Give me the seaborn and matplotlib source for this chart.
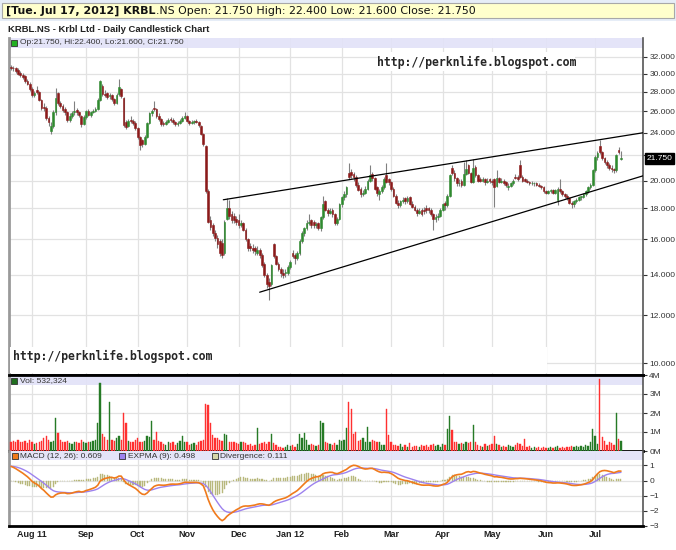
"""KRBL.NS daily candlestick chart with volume and MACD panels."""

import matplotlib
matplotlib.use("Agg")
import matplotlib.pyplot as plt
import matplotlib.transforms as mtransforms
import numpy as np
import pandas as pd
import seaborn as sns
from matplotlib.patches import Rectangle
from matplotlib.ticker import NullLocator

# daily OHLC, 19 Jul 2011 .. 17 Jul 2012
opens = [
    30.8, 30.7, 30.6, 30.4, 30.1, 29.9, 29.7, 29.2, 28.9, 28.3,
    27.7, 28.2, 28.0, 27.2, 26.4, 26.3, 25.4, 24.1, 24.6, 25.9,
    27.9, 26.8, 26.5, 26.2, 25.9, 25.2, 25.6, 25.9, 26.1, 25.9,
    25.6, 24.8, 25.5, 26.0, 25.7, 25.9, 26.0, 26.2, 27.2, 28.6,
    27.8, 27.9, 27.6, 27.7, 27.3, 26.8, 27.8, 28.3, 27.4, 25.0,
    24.6, 25.2, 25.1, 24.9, 24.4, 23.6, 23.3, 23.0, 23.6, 24.9,
    25.8, 26.3, 26.2, 25.6, 25.3, 24.9, 24.8, 25.0, 25.3, 25.2,
    25.0, 24.8, 24.9, 25.1, 25.4, 25.6, 25.1, 24.9, 25.0, 25.1,
    25.0, 24.6, 23.9, 22.8, 19.2, 17.2, 16.9, 16.4, 16.1, 15.9,
    15.8, 15.2, 17.3, 18.0, 17.6, 17.5, 17.3, 17.2, 16.9, 17.0,
    16.6, 16.0, 15.6, 15.5, 15.5, 15.2, 15.4, 15.1, 14.6, 14.0,
    13.6, 13.5, 15.7, 15.0, 14.6, 14.3, 14.1, 14.1, 14.1, 14.4,
    15.2, 15.1, 14.9, 15.2, 15.9, 16.4, 16.7, 17.0, 17.2, 17.1,
    16.9, 17.0, 16.7, 17.4, 18.5, 17.9, 17.7, 17.9, 17.6, 17.0,
    17.3, 18.3, 18.8, 19.0, 20.6, 20.7, 20.5, 20.3, 19.7, 19.4,
    19.0, 19.1, 19.4, 20.0, 20.5, 20.2, 19.5, 19.0, 19.2, 19.5,
    20.4, 20.1, 19.9, 19.4, 18.9, 18.4, 18.2, 18.5, 18.7, 18.5,
    18.8, 18.3, 18.1, 17.9, 17.7, 17.9, 17.9, 18.0, 18.0, 17.9,
    17.6, 17.3, 17.4, 17.5, 17.9, 18.4, 18.2, 18.9, 21.0, 20.6,
    20.2, 19.8, 20.0, 19.7, 20.5, 21.2, 20.6, 19.9, 21.1, 20.4,
    20.1, 20.0, 20.1, 19.9, 20.1, 20.0, 20.1, 19.6, 20.2, 19.9,
    20.0, 19.9, 19.5, 19.6, 19.8, 20.3, 20.3, 21.2, 20.3, 20.1,
    20.0, 19.9, 19.8, 19.8, 19.8, 19.7, 19.6, 19.5, 19.2, 19.1,
    19.2, 19.3, 19.1, 18.6, 19.4, 19.2, 19.0, 18.9, 18.7, 18.4,
    18.3, 18.5, 18.6, 18.8, 18.8, 19.0, 19.2, 19.5, 19.7, 20.8,
    21.9, 22.8, 22.3, 21.8, 21.5, 21.2, 21.0, 20.9, 20.8, 22.5,
    21.75,
]
highs = [
    31.0, 30.9, 30.8, 30.6, 30.3, 30.1, 29.9, 29.4, 29.1, 28.5,
    28.1, 28.6, 28.1, 27.3, 26.8, 26.5, 25.6, 25.0, 26.1, 28.4,
    28.0, 27.0, 26.7, 26.4, 26.0, 25.8, 26.0, 27.0, 26.3, 26.0,
    25.7, 25.7, 26.1, 26.2, 26.0, 26.2, 26.4, 27.4, 29.3, 28.8,
    28.2, 28.0, 27.9, 27.8, 27.4, 27.9, 29.4, 28.4, 27.5, 25.2,
    25.3, 25.6, 25.3, 25.1, 24.5, 23.7, 23.4, 23.8, 25.0, 25.9,
    26.2, 27.1, 26.3, 25.8, 25.4, 25.1, 25.2, 25.4, 25.5, 25.4,
    25.1, 25.1, 25.3, 25.6, 25.9, 25.7, 25.2, 25.2, 25.2, 25.3,
    25.1, 24.7, 24.0, 22.9, 19.4, 17.5, 17.0, 16.6, 16.3, 16.0,
    16.0, 17.2, 18.7, 18.6, 17.8, 17.7, 17.5, 17.6, 17.2, 17.1,
    16.7, 16.1, 15.8, 15.7, 15.6, 15.6, 15.5, 15.2, 14.7, 14.1,
    13.8, 14.6, 15.8, 15.1, 14.7, 14.4, 14.3, 14.3, 14.5, 14.8,
    15.4, 15.2, 15.3, 16.0, 16.5, 16.8, 17.2, 17.6, 17.3, 17.2,
    17.1, 17.1, 17.5, 18.9, 18.6, 18.0, 18.0, 18.0, 17.7, 17.4,
    18.4, 18.9, 19.2, 19.6, 21.4, 20.9, 20.7, 20.4, 19.9, 19.5,
    19.3, 19.6, 20.1, 21.2, 20.7, 20.3, 19.6, 19.4, 19.7, 20.3,
    21.4, 20.2, 20.0, 19.5, 19.0, 18.6, 18.6, 18.8, 18.8, 18.9,
    18.9, 18.5, 18.2, 18.0, 18.0, 18.0, 18.1, 18.2, 18.1, 18.0,
    17.7, 17.6, 17.7, 18.0, 18.4, 18.5, 19.0, 20.5, 21.2, 20.8,
    20.3, 20.1, 20.1, 21.5, 21.6, 21.3, 20.7, 21.7, 21.2, 20.5,
    20.3, 20.3, 20.2, 20.2, 20.2, 20.1, 20.2, 20.8, 20.3, 20.2,
    20.1, 20.0, 19.8, 19.9, 20.1, 20.5, 20.4, 21.6, 20.4, 20.2,
    20.1, 20.0, 20.0, 19.9, 19.9, 19.8, 19.7, 19.6, 19.3, 19.3,
    19.4, 19.4, 19.4, 19.5, 20.1, 19.3, 19.1, 19.0, 18.8, 18.5,
    18.6, 18.7, 18.9, 18.9, 19.1, 19.3, 19.6, 19.8, 20.9, 22.0,
    22.4, 23.3, 22.4, 21.9, 21.6, 21.4, 21.2, 21.0, 22.1, 22.7,
    22.4,
]
lows = [
    30.4, 30.3, 30.1, 29.8, 29.6, 29.4, 29.0, 28.7, 28.1, 27.5,
    27.5, 27.8, 27.0, 26.1, 26.0, 25.2, 24.6, 23.9, 24.4, 25.7,
    26.6, 26.3, 25.9, 25.7, 25.0, 25.0, 25.4, 25.7, 25.7, 25.5,
    24.5, 24.7, 25.3, 25.6, 25.5, 25.8, 25.9, 26.1, 27.1, 27.6,
    27.5, 27.3, 27.3, 27.1, 26.6, 26.7, 27.6, 27.4, 24.5, 24.3,
    24.5, 24.9, 24.7, 24.2, 23.4, 22.5, 22.7, 22.9, 23.5, 24.8,
    25.6, 26.0, 25.4, 25.1, 24.6, 24.6, 24.7, 24.9, 25.0, 24.8,
    24.6, 24.6, 24.8, 25.0, 25.3, 25.0, 24.7, 24.8, 24.8, 24.9,
    24.5, 23.8, 22.8, 19.1, 17.0, 16.6, 16.2, 15.9, 15.5, 15.0,
    14.9, 15.1, 17.2, 17.3, 17.0, 17.0, 16.9, 16.7, 16.8, 16.5,
    15.9, 15.3, 15.3, 15.2, 15.1, 15.1, 14.9, 14.4, 13.9, 13.3,
    12.7, 13.4, 14.9, 14.5, 14.2, 13.9, 13.8, 13.9, 14.0, 14.3,
    14.9, 14.6, 14.8, 15.1, 15.8, 16.2, 16.6, 16.9, 16.7, 16.7,
    16.7, 16.6, 16.5, 17.3, 17.8, 17.5, 17.6, 17.4, 16.9, 16.9,
    17.2, 18.1, 18.6, 18.8, 20.1, 20.2, 20.0, 19.5, 19.2, 18.8,
    18.9, 19.0, 19.3, 19.9, 20.0, 19.3, 18.9, 18.6, 19.1, 19.4,
    19.8, 19.7, 19.2, 18.8, 18.3, 18.0, 18.1, 18.4, 18.3, 18.4,
    18.2, 18.0, 17.8, 17.5, 17.6, 17.5, 17.6, 17.7, 17.7, 17.5,
    16.6, 17.1, 17.2, 17.4, 17.8, 17.9, 18.1, 18.8, 20.4, 20.0,
    19.6, 19.6, 19.5, 19.6, 20.4, 20.5, 19.8, 19.8, 20.3, 19.9,
    19.9, 19.9, 19.7, 19.8, 19.8, 19.7, 18.1, 19.5, 19.8, 19.8,
    19.7, 19.5, 19.3, 19.5, 19.7, 20.1, 20.0, 20.2, 19.9, 19.9,
    19.8, 19.7, 19.7, 19.6, 19.6, 19.5, 19.4, 19.1, 19.0, 19.0,
    19.1, 19.0, 19.0, 18.2, 19.1, 18.9, 18.7, 18.6, 18.3, 18.0,
    18.1, 18.4, 18.5, 18.6, 18.7, 18.9, 19.1, 19.4, 19.6, 20.7,
    21.6, 22.1, 21.6, 21.3, 21.0, 20.8, 20.7, 20.6, 20.7, 22.1,
    21.6,
]
closes = [
    30.6, 30.6, 30.3, 30.0, 29.8, 29.6, 29.2, 28.9, 28.3, 27.7,
    27.9, 28.0, 27.2, 26.3, 26.3, 25.4, 25.0, 24.6, 25.9, 27.4,
    26.8, 26.5, 26.1, 25.9, 25.2, 25.6, 25.8, 26.0, 25.9, 25.7,
    24.8, 25.5, 26.0, 25.7, 25.9, 26.0, 26.2, 27.2, 29.2, 27.8,
    27.7, 27.5, 27.6, 27.3, 26.8, 27.7, 28.5, 27.6, 24.7, 24.5,
    25.1, 25.1, 24.9, 24.4, 23.6, 22.9, 23.0, 23.6, 24.9, 25.8,
    26.0, 26.2, 25.6, 25.3, 24.8, 24.8, 25.0, 25.2, 25.2, 25.0,
    24.8, 24.9, 25.1, 25.4, 25.6, 25.1, 24.9, 25.0, 25.0, 25.0,
    24.7, 23.9, 23.0, 19.2, 17.1, 16.8, 16.4, 16.1, 15.7, 15.2,
    15.1, 17.1, 18.0, 17.5, 17.2, 17.2, 17.1, 16.9, 17.0, 16.6,
    16.0, 15.5, 15.5, 15.4, 15.3, 15.4, 15.1, 14.5, 14.0, 13.5,
    13.4, 14.5, 15.0, 14.6, 14.3, 14.1, 14.0, 14.1, 14.4, 14.7,
    15.0, 14.9, 15.2, 15.9, 16.4, 16.7, 17.0, 17.1, 16.9, 16.9,
    16.9, 16.7, 17.4, 18.3, 17.9, 17.7, 17.8, 17.6, 17.0, 17.3,
    18.3, 18.8, 19.0, 19.5, 20.3, 20.4, 20.3, 19.7, 19.3, 19.0,
    19.1, 19.4, 20.0, 20.4, 20.2, 19.4, 19.1, 19.2, 19.5, 20.1,
    19.9, 19.9, 19.4, 18.9, 18.4, 18.2, 18.5, 18.6, 18.5, 18.7,
    18.3, 18.1, 17.9, 17.7, 17.8, 17.6, 17.8, 17.9, 17.9, 17.6,
    17.3, 17.4, 17.5, 17.9, 18.3, 18.2, 18.9, 20.4, 20.6, 20.2,
    19.8, 19.8, 19.7, 20.5, 20.9, 20.6, 19.9, 21.0, 20.4, 20.0,
    20.0, 20.1, 19.9, 20.0, 20.0, 19.9, 19.5, 20.2, 19.9, 20.0,
    19.8, 19.7, 19.6, 19.8, 20.0, 20.2, 20.1, 20.3, 20.0, 20.0,
    19.9, 19.8, 19.8, 19.8, 19.7, 19.6, 19.5, 19.2, 19.1, 19.2,
    19.3, 19.1, 19.3, 19.4, 19.2, 19.0, 18.9, 18.7, 18.4, 18.3,
    18.5, 18.6, 18.8, 18.8, 19.0, 19.2, 19.5, 19.7, 20.8, 21.9,
    22.2, 22.3, 21.8, 21.5, 21.2, 21.0, 20.9, 20.8, 22.0, 22.3,
    21.75,
]
# volume in millions of shares
volume_m = [
    0.45, 0.55, 0.5, 0.6, 0.45, 0.5, 0.55, 0.4, 0.6, 0.5,
    0.35, 0.4, 0.45, 0.55, 0.7, 0.8, 0.6, 0.45, 0.55, 1.75,
    0.95, 0.6, 0.5, 0.45, 0.55, 0.4, 0.35, 0.5, 0.45, 0.4,
    0.6, 0.45, 0.4, 0.5, 0.45, 0.55, 0.6, 1.5, 3.6, 0.9,
    0.75, 0.6, 2.6, 0.6, 0.55, 0.7, 0.8, 0.6, 2.0, 1.45,
    0.55, 0.5, 0.45, 0.6, 0.7, 0.5, 0.45, 0.55, 0.8, 0.75,
    1.6, 0.6, 1.0, 0.55, 0.45, 0.35, 0.3, 0.5, 0.4, 0.45,
    0.3, 0.4, 0.55, 0.8, 0.5, 0.45, 0.3, 0.35, 0.4, 0.3,
    0.45, 0.55, 0.6, 2.5, 2.4, 1.45, 0.85, 0.7, 0.7, 0.6,
    0.55, 0.9, 0.85, 0.5, 0.45, 0.5, 0.4, 0.35, 0.5, 0.45,
    0.4, 0.3, 0.35, 0.25, 0.3, 1.2, 0.35, 0.4, 0.5, 0.35,
    0.45, 0.9, 0.4, 0.3, 0.2, 0.2, 0.15, 0.2, 0.3, 0.25,
    0.3, 0.2, 0.35, 0.9, 0.7, 0.95, 0.6, 0.3, 0.35, 0.3,
    0.25, 0.3, 1.6, 1.45, 0.5, 0.4, 0.35, 0.3, 0.4, 0.3,
    0.6, 0.55, 0.6, 1.2, 2.6, 2.2, 0.9, 1.0, 0.55, 0.6,
    0.7, 0.5, 1.25, 0.5, 0.6, 0.55, 0.5, 0.45, 0.3, 0.3,
    2.2, 0.85, 0.5, 0.3, 0.3, 0.25, 0.35, 0.2, 0.3, 0.2,
    0.4, 0.2, 0.25, 0.25, 0.2, 0.3, 0.25, 0.3, 0.2, 0.3,
    0.35, 0.25, 0.3, 0.2, 0.35, 0.3, 1.15, 1.85, 1.1, 0.45,
    0.45, 0.35, 0.4, 0.35, 0.45, 0.4, 0.45, 1.35, 0.5, 0.3,
    0.25, 0.2, 0.35, 0.25, 0.3, 0.35, 0.8, 0.35, 0.3, 0.2,
    0.25, 0.2, 0.3, 0.25, 0.2, 0.3, 0.4, 0.35, 0.25, 0.65,
    0.2, 0.25, 0.15, 0.2, 0.15, 0.2, 0.15, 0.2, 0.15, 0.15,
    0.2, 0.15, 0.2, 0.25, 0.15, 0.2, 0.15, 0.2, 0.2, 0.25,
    0.2, 0.25, 0.2, 0.25, 0.2, 0.3, 0.25, 0.5, 1.15, 0.8,
    0.35, 3.8, 0.75, 0.55, 0.3, 0.45, 0.4, 0.3, 2.0, 0.65,
    0.53,
]

month_labels = ["Aug 11", "Sep", "Oct", "Nov", "Dec", "Jan 12",
                "Feb", "Mar", "Apr", "May", "Jun", "Jul"]
price_ticks = [10, 12, 14, 16, 18, 20, 22, 24, 26, 28, 30, 32]
volume_ticks = [0, 1, 2, 3, 4]
macd_ticks = [-3, -2, -1, 0, 1]

# hand-drawn trendlines: (trading-day index, price)
upper_trend = ([90.5, 270.0], [18.6, 24.0])
lower_trend = ([106.0, 270.0], [13.1, 20.4])

# EMA state carried in from before the window
ema12_seed, ema26_seed, signal_seed = 30.5, 29.5, 0.95

W, H = 676, 550
XLIM = (-0.85, 269.4)


def ema(values, span, start):
    alpha = 2 / (span + 1)
    out, e = [], start
    for v in values:
        e += alpha * (v - e)
        out.append(e)
    return np.array(out)


def box(x0, y0, x1, y1):
    return [x0 / W, 1 - y1 / H, (x1 - x0) / W, (y1 - y0) / H]


def fig_rect(fig, x0, y0, x1, y1, **kw):
    fig.add_artist(Rectangle((x0 / W, 1 - y1 / H), (x1 - x0) / W, (y1 - y0) / H,
                             transform=fig.transFigure, **kw))


def style_panel(ax, month_pos, band):
    ax.set_xlim(*XLIM)
    ax.set_xticks(month_pos)
    ax.tick_params(axis="x", length=0, labelbottom=False)
    ax.yaxis.tick_right()
    ax.tick_params(axis="y", labelsize=6, length=3, width=0.8, pad=1.5,
                   colors="#333333")
    ax.grid(True, color="#e2e2e2", lw=0.9)
    ax.set_axisbelow(True)
    ax.spines["left"].set_color("#9a9a9a")
    ax.spines["left"].set_linewidth(2)
    ax.spines["right"].set_color("#555555")
    ax.spines["right"].set_linewidth(1.2)
    ax.spines["top"].set_visible(False)
    ax.spines["bottom"].set_color("black")
    ax.spines["bottom"].set_linewidth(2)
    ax.add_patch(Rectangle((0, 1 - band), 1, band, transform=ax.transAxes,
                           fc="#e2e2f8", ec="none", alpha=0.9, zorder=1))


def main():
    sns.set_style("white")
    plt.rcParams["font.family"] = ["Liberation Sans", "DejaVu Sans"]

    o = np.array(opens)
    h = np.array(highs)
    lo = np.array(lows)
    c = np.array(closes)
    vol = np.array(volume_m)
    n = len(c)
    idx = np.arange(n)
    dates = pd.bdate_range("2011-07-19", periods=n)
    frame = pd.DataFrame({"date": dates, "idx": idx})
    month_pos = frame.groupby([frame.date.dt.year, frame.date.dt.month]).idx.min().values[1:]

    macd = ema(c, 12, ema12_seed) - ema(c, 26, ema26_seed)
    signal = ema(macd, 9, signal_seed)

    fig = plt.figure(figsize=(W / 100, H / 100), dpi=100)
    fig.patch.set_facecolor("white")

    # header strip
    fig_rect(fig, 0, 0, W, 21, fc="#e6edf7", ec="none")
    fig_rect(fig, 2, 3, 674, 18, fc="#ffffcc", ec="#a8a8a8", lw=0.8)
    t1 = fig.text(6 / W, 1 - 10.5 / H, "[Tue. Jul 17, 2012] KRBL", family="DejaVu Sans",
                  weight="bold", fontsize=7.9, va="center", color="#111111")
    fig.canvas.draw()
    x_next = t1.get_window_extent().x1 / W
    fig.text(x_next, 1 - 10.5 / H,
             ".NS Open: 21.750 High: 22.400 Low: 21.600 Close: 21.750",
             family="DejaVu Sans", fontsize=7.9, va="center", color="#111111")
    fig.text(8 / W, 1 - 29 / H, "KRBL.NS - Krbl Ltd - Daily Candlestick Chart",
             weight="bold", fontsize=6.8, va="center", color="#222222")

    ax1 = fig.add_axes(box(9, 38, 643, 375))
    ax2 = fig.add_axes(box(9, 375, 643, 451))
    ax3 = fig.add_axes(box(9, 451, 643, 526))

    # price panel
    ax1.set_yscale("log")
    style_panel(ax1, month_pos, 10 / 337)
    ax1.set_ylim(9.57, 34.35)
    ax1.yaxis.set_minor_locator(NullLocator())
    ax1.set_yticks(price_ticks)
    ax1.set_yticklabels(["" if t == 22 else f"{t:.3f}" for t in price_ticks])
    up = c >= o
    candle_colors = np.where(up, "#2f8a2f", "#8b1a1a")
    body_low = np.minimum(o, c)
    body_h = np.maximum(np.abs(c - o), 0.04)
    ax1.vlines(idx, lo, h, color="#808080", lw=0.8, zorder=2)
    ax1.bar(idx, body_h, bottom=body_low, width=0.75, color=candle_colors,
            edgecolor=candle_colors, lw=0.4, zorder=3)
    ax1.plot(*upper_trend, color="black", lw=0.9, zorder=4)
    ax1.plot(*lower_trend, color="black", lw=0.9, zorder=4)
    blend = mtransforms.blended_transform_factory(ax1.transAxes, ax1.transData)
    ax1.text(1.006, closes[-1], f"{closes[-1]:.3f}", transform=blend, fontsize=6,
             color="white", va="center", ha="left",
             bbox=dict(boxstyle="square,pad=0.2", fc="black", ec="black"))

    # volume panel
    style_panel(ax2, month_pos, 10 / 76)
    ax2.spines["top"].set_visible(True)
    ax2.spines["top"].set_color("black")
    ax2.spines["top"].set_linewidth(2)
    ax2.set_ylim(0, 4.0)
    ax2.set_yticks(volume_ticks)
    ax2.set_yticklabels([f"{t}M" for t in volume_ticks])
    vol_colors = np.where(up, "#267a26", "#ff3030")
    ax2.bar(idx, vol, width=0.55, color=vol_colors, edgecolor=vol_colors, lw=0.3,
            zorder=3)

    # MACD panel
    style_panel(ax3, month_pos, 9 / 75)
    ax3.set_ylim(-3.0, 1.95)
    ax3.set_yticks(macd_ticks)
    ax3.set_yticklabels([f"{t}".replace("-", "\u2212") for t in macd_ticks])
    ax3.bar(idx, macd - signal, width=0.45, color="#b8b87c", edgecolor="#b8b87c",
            lw=0.3, zorder=2)
    sns.lineplot(x=idx, y=signal, ax=ax3, color="#9d82ee", lw=1.0, zorder=3)
    sns.lineplot(x=idx, y=macd, ax=ax3, color="#f07a1c", lw=1.2, zorder=4)
    ax3.set_xlabel("")
    ax3.set_ylabel("")
    ax3.tick_params(axis="x", labelbottom=True, labelsize=6.5, pad=3, colors="#222222")
    ax3.set_xticklabels(month_labels, weight="bold")

    # legend rows inside the lavender bands
    def legend_item(x, y, color, text):
        fig_rect(fig, x, y - 3, x + 6, y + 3, fc=color, ec="#333333", lw=0.6)
        fig.text((x + 8.5) / W, 1 - y / H, text, fontsize=6, va="center", color="#333333")

    legend_item(11, 43, "#22b022", "Op:21.750, Hi:22.400, Lo:21.600, Cl:21.750")
    legend_item(11, 380.5, "#1f6e1f", "Vol: 532,324")
    legend_item(12, 456, "#f07a1c", "MACD (12, 26): 0.609")
    legend_item(119, 456, "#9d82ee", "EXPMA (9): 0.498")
    legend_item(212, 456, "#d6d6a8", "Divergence: 0.111")

    # watermarks on white boxes
    fig_rect(fig, 378, 52, 575, 71, fc="white", ec="none", zorder=5)
    fig.text(477 / W, 1 - 62 / H, "http://perknlife.blogspot.com", ha="center",
             va="center", family="DejaVu Sans Mono", weight="bold", fontsize=8.3,
             zorder=6)
    fig_rect(fig, 10, 347, 547, 373, fc="white", ec="none", zorder=5)
    fig.text(13 / W, 1 - 356 / H, "http://perknlife.blogspot.com", ha="left",
             va="center", family="DejaVu Sans Mono", weight="bold", fontsize=8.3,
             zorder=6)

    fig.savefig("out.png", dpi=100, facecolor="white")


if __name__ == "__main__":
    main()
